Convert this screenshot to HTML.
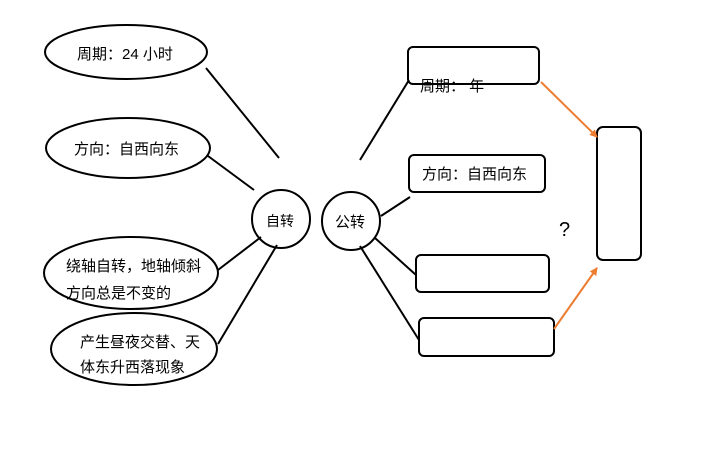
<!DOCTYPE html>
<html><head><meta charset="utf-8"><style>
html,body{margin:0;padding:0;background:#fff;width:713px;height:459px;overflow:hidden}
svg text{font-family:"Liberation Sans","Noto Sans CJK SC",sans-serif;font-size:15px;fill:#000}
</style></head><body>
<svg width="713" height="459" viewBox="0 0 713 459" xmlns="http://www.w3.org/2000/svg">
<defs><marker id="a" markerWidth="8" markerHeight="8" refX="7" refY="4" orient="auto" markerUnits="userSpaceOnUse"><path d="M0,0 L8,4 L0,8 z" fill="#ed7d31"/></marker></defs>
<g fill="none" stroke="#000" stroke-width="2">
<ellipse cx="126" cy="52" rx="81" ry="27"/>
<ellipse cx="128" cy="148" rx="82" ry="30"/>
<ellipse cx="131" cy="273" rx="87" ry="36"/>
<ellipse cx="134" cy="349" rx="83" ry="36"/>
<circle cx="281" cy="219" r="29"/>
<circle cx="351" cy="221" r="29"/>
<line x1="206" y1="68" x2="279" y2="158"/>
<line x1="208" y1="156" x2="254" y2="190"/>
<line x1="218" y1="270" x2="261" y2="237"/>
<line x1="218" y1="344" x2="277" y2="245"/>
<line x1="360" y1="160" x2="409" y2="80"/>
<line x1="381" y1="216" x2="410" y2="197"/>
<line x1="375" y1="238" x2="416" y2="275"/>
<line x1="360" y1="246" x2="419" y2="340"/>
<rect x="408" y="47" width="131" height="37" rx="5"/>
<rect x="409" y="155" width="136" height="37" rx="5"/>
<rect x="416" y="255" width="133" height="37" rx="5"/>
<rect x="419" y="318" width="135" height="38" rx="5"/>
<rect x="597" y="127" width="44" height="133" rx="6"/>
</g>
<g stroke="#ed7d31" stroke-width="2">
<line x1="541" y1="82" x2="597" y2="137" marker-end="url(#a)"/>
<line x1="554" y1="329" x2="597" y2="268" marker-end="url(#a)"/>
</g>
<text x="77" y="59">周期：24 小时</text>
<text x="74" y="154">方向：自西向东</text>
<text x="66" y="271">绕轴自转，地轴倾斜</text>
<text x="66" y="298">方向总是不变的</text>
<text x="80" y="347">产生昼夜交替、天</text>
<text x="80" y="372">体东升西落现象</text>
<text x="266" y="226" style="font-size:14px">自转</text>
<text x="335" y="227">公转</text>
<text x="420" y="91">周期：    年</text>
<text x="422" y="179">方向：自西向东</text>
<text x="559" y="236" style="font-size:20px">?</text>
</svg>
</body></html>
